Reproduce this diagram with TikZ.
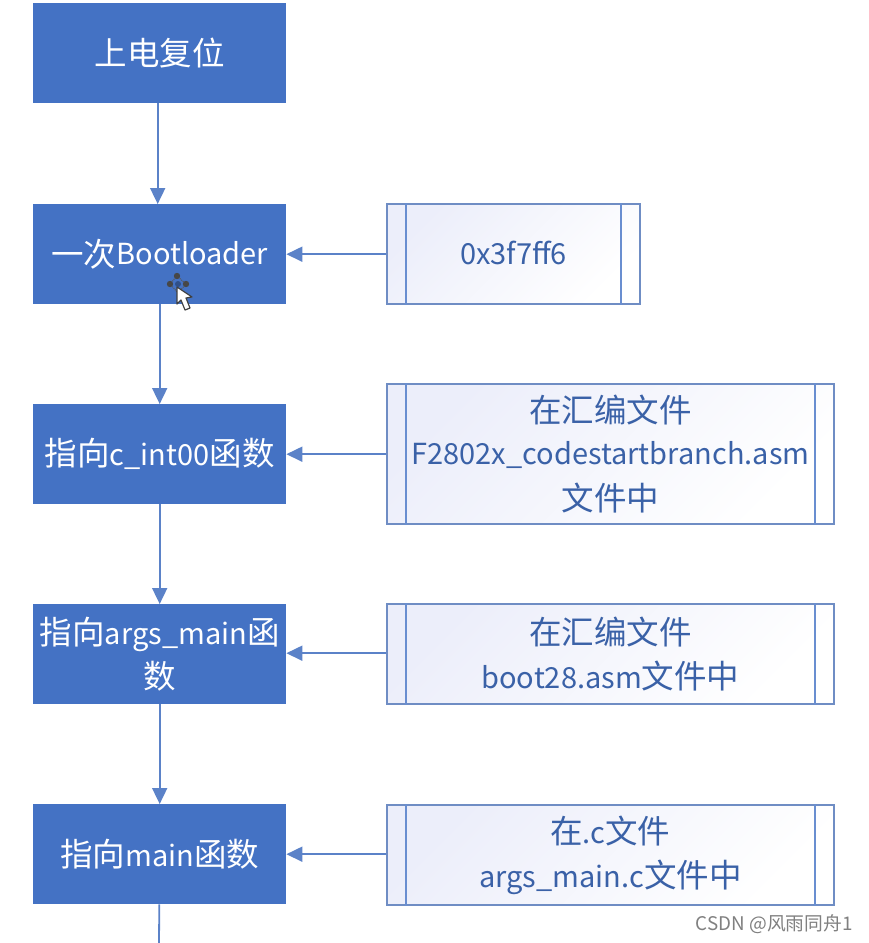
\documentclass[tikz,border=0pt]{standalone}
\usepackage{fontspec}
\setmainfont{Noto Sans CJK SC}
\usetikzlibrary{arrows.meta,shadings}
\definecolor{boxblue}{HTML}{4472C4}
\definecolor{linkblue}{HTML}{5B82C8}
\definecolor{tintblue}{HTML}{ECEEFA}
\definecolor{edgeblue}{HTML}{6F8DC4}
\newcommand\cj[1]{{\fontsize{32.5}{44}\selectfont #1}}
\newcommand\up[1]{\raisebox{1.8pt}{#1}}
\tikzset{
  x=1pt,y=-1pt,
  stepbox/.style={fill=boxblue,text=white,minimum width=253pt,minimum height=100pt,align=center,font=\fontsize{29}{44}\selectfont,inner sep=0pt,anchor=north west},
  sidebox/.style={draw=edgeblue,line width=1.9pt,left color=tintblue,right color=white,shading angle=45,text=boxblue!85!black,align=center,font=\fontsize{29}{44}\selectfont,inner sep=0pt,anchor=north west},
  link/.style={draw=linkblue,line width=1.8pt,-{Triangle[length=16pt,width=15pt]}}
}
\begin{document}
\begin{tikzpicture}
\useasboundingbox (0,0) rectangle (868,943);
\fill[white] (0,0) rectangle (868,943);
\node[stepbox] (a) at (33,3) {\cj{上电复位}};
\node[stepbox] (b) at (33,204) {\cj{一次}\up{Bootloader}};
\node[stepbox] (c) at (33,404) {\cj{指向}c\_int00\cj{函数}};
\node[stepbox] (d) at (33,604) {\cj{指向}args\_main\cj{函}\\\cj{数}};
\node[stepbox] (e) at (33,804) {\cj{指向}main\cj{函数}};
\node[sidebox,minimum width=253pt,minimum height=100pt] (s1) at (386,203) {\up{0x3f7ff6}};
\node[sidebox,minimum width=447pt,minimum height=140pt] (s2) at (386,383) {\cj{在汇编文件}\\\up{F2802x\_codestartbranch.asm}\\\cj{文件中}};
\node[sidebox,minimum width=447pt,minimum height=100pt] (s3) at (386,603) {\cj{在汇编文件}\\boot28.asm\cj{文件中}};
\node[sidebox,minimum width=447pt,minimum height=100pt] (s4) at (386,804) {\cj{在}.c\cj{文件}\\args\_main.c\cj{文件中}};
\foreach \n in {s1,s2,s3,s4}{
  \draw[boxblue!80!white,line width=2pt] ([xshift=20pt]\n.north west) -- ([xshift=20pt]\n.south west);
  \draw[boxblue!80!white,line width=1.9pt] ([xshift=-20pt]\n.north east) -- ([xshift=-20pt]\n.south east);
}
\coordinate (endln) at (159,943);
\draw[link] ([xshift=-2pt]a.south) -- ([xshift=-2pt]b.north);
\draw[link] (b) -- (c);
\draw[link] (c) -- (d);
\draw[link] (d) -- (e);
\draw[linkblue,line width=1.8pt] (e) -- (endln);
\draw[link] (s1.west |- b.east) -- (b.east);
\draw[link] (s2.west |- c.east) -- (c.east);
\draw[link] ([yshift=1pt]s3.west |- d.east) -- ([yshift=1pt]d.east);
\draw[link] (s4.west |- e.east) -- (e.east);
% mouse cursor
\draw[black!65,line width=1pt,densely dotted] (177,276) -- (170,284) -- (178,293) -- (186,284) -- cycle;
\foreach \p in {(177,276),(170,284),(186,284)}
  \fill[black!72] \p circle (3.2pt);
\fill[boxblue!70!black] (178,284) circle (3pt);
\draw[black!75,fill=white,line width=1.2pt,line join=round]
  (177,287) -- (177,304) -- (181,300) -- (185,310) -- (190,308) -- (186,298) -- (192,297) -- cycle;
\node[anchor=east,text=black!50,font=\fontsize{18.8}{22}\selectfont,inner sep=0pt] (mark) at (853,924) {CSDN @风雨同舟1};
\end{tikzpicture}
\end{document}
